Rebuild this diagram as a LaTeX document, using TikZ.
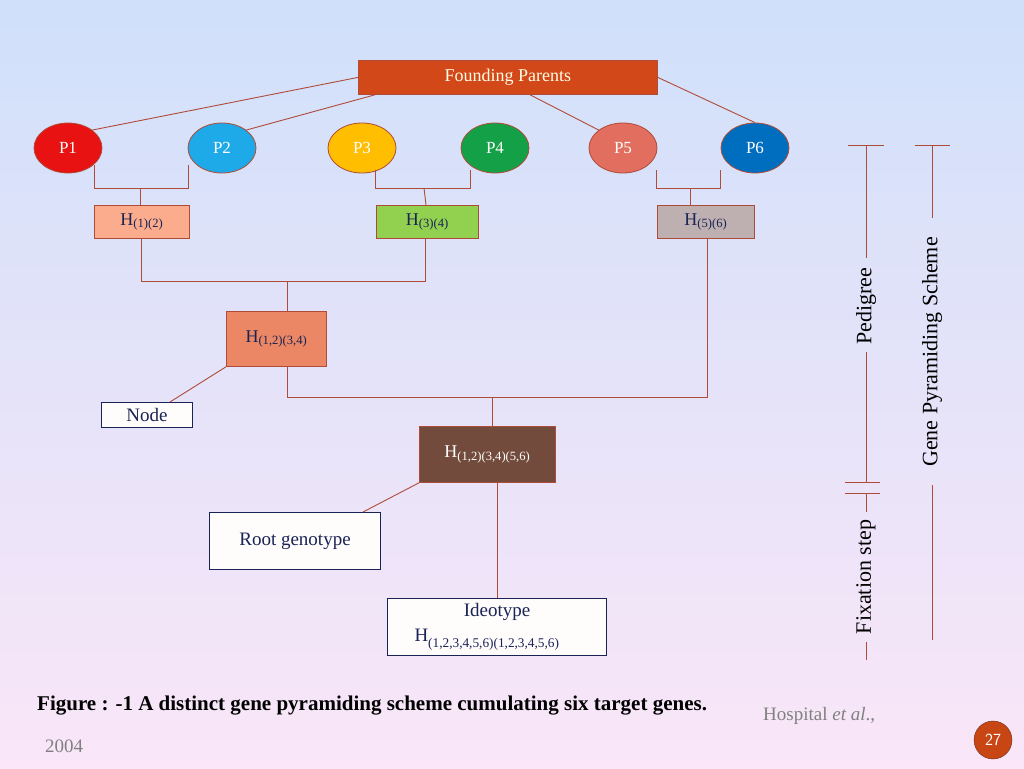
\documentclass[tikz,border=0pt]{standalone}
\usepackage{fontspec}
\setmainfont{Liberation Serif}
\usetikzlibrary{shapes.geometric,calc}
\definecolor{ln}{RGB}{175,75,55}
\definecolor{navy}{RGB}{25,35,85}
\begin{document}
\begin{tikzpicture}[x=1pt,y=-1pt,
  con/.style={draw=ln,line width=0.9pt},
  par/.style={ellipse,minimum width=68pt,minimum height=50pt,draw=ln,line width=0.8pt,text=white,font=\fontsize{17}{17}\selectfont},
  hbox/.style={draw=ln,line width=0.8pt,anchor=north west,inner sep=0pt,font=\fontsize{18}{18}\selectfont,text=navy},
  wbox/.style={draw=navy,line width=1pt,fill=white!60!pink!10,anchor=north west,inner sep=0pt,font=\fontsize{19}{19}\selectfont,text=navy},
  side/.style={rotate=90,font=\fontsize{22}{22}\selectfont}]
\shade[top color={rgb,255:red,208;green,224;blue,250},bottom color={rgb,255:red,250;green,230;blue,248}] (0,0) rectangle (1024,768);
\useasboundingbox (0,0) rectangle (1024,768);
% founding parents
\node[hbox,fill={rgb,255:red,210;green,72;blue,25},text=white!90!yellow,minimum width=299pt,minimum height=34pt] (fp) at (358,60) {Founding Parents};
\node[par,fill={rgb,255:red,232;green,18;blue,18}] (p1) at (68,148) {P1};
\node[par,fill={rgb,255:red,30;green,170;blue,232}] (p2) at (222,148) {P2};
\node[par,fill={rgb,255:red,255;green,190;blue,0}] (p3) at (362,148) {P3};
\node[par,fill={rgb,255:red,20;green,160;blue,70}] (p4) at (495,148) {P4};
\node[par,fill={rgb,255:red,225;green,110;blue,95}] (p5) at (623,148) {P5};
\node[par,fill={rgb,255:red,0;green,110;blue,190}] (p6) at (755,148) {P6};
\draw[con] (fp.west) -- (p1.north east);
\draw[con] ($(fp.south west)+(17,0)$) -- (p2.north east);
\draw[con] ($(fp.south west)+(172,0)$) -- (p5.north west);
\draw[con] (fp.east) -- (p6.north);
% H boxes
\node[hbox,fill={rgb,255:red,250;green,172;blue,140},minimum width=95pt,minimum height=33pt] (h12) at (94,205) {H\textsubscript{(1)(2)}};
\node[hbox,fill={rgb,255:red,146;green,208;blue,80},minimum width=102pt,minimum height=33pt] (h34) at (376,205) {H\textsubscript{(3)(4)}};
\node[hbox,fill={rgb,255:red,190;green,176;blue,176},minimum width=97pt,minimum height=33pt] (h56) at (657,205) {H\textsubscript{(5)(6)}};
\draw[con] (94,165) -- (94,188) -- (188,188) -- (188,165);
\draw[con] (140,188) -- (140,205);
\draw[con] (375,170) -- (375,188) -- (470,188) -- (470,170);
\draw[con] (424,188) -- (426,205);
\draw[con] (656,170) -- (656,188) -- (720,188) -- (720,170);
\draw[con] (690,188) -- (690,205);
% level 2
\node[hbox,fill={rgb,255:red,235;green,135;blue,100},minimum width=100pt,minimum height=55pt] (h1234) at (226,311) {H\textsubscript{(1,2)(3,4)}};
\draw[con] (141,238) -- (141,281) -- (425,281) -- (425,238);
\draw[con] (287,281) -- (287,311);
\node[wbox,minimum width=91pt,minimum height=25pt] (nd) at (101,402) {Node};
\draw[con] (h1234.south west) -- (170,402);
% level 3
\node[hbox,fill={rgb,255:red,115;green,75;blue,60},text=white,minimum width=136pt,minimum height=56pt] (h6) at (419,426) {H\textsubscript{(1,2)(3,4)(5,6)}};
\draw[con] (287,366) -- (287,397) -- (707,397) -- (707,238);
\draw[con] (492,397) -- (492,426);
\node[wbox,minimum width=171pt,minimum height=57pt] (rg) at (209,512) {Root genotype};
\draw[con] (h6.south west) -- (363,512);
\node[wbox,minimum width=219pt,minimum height=57pt,align=center] (id) at (387,598) {Ideotype\\[6pt]\hspace*{-20pt}H\textsubscript{\raisebox{-4pt}{(1,2,3,4,5,6)(1,2,3,4,5,6)}}};
\draw[con] (497,482) -- (497,598);
% side brackets
\draw[con] (848,145) -- (884,145);
\draw[con] (866,145) -- (866,258);
\node[side] (ped) at (866,306) {Pedigree};
\draw[con] (866,352) -- (866,482);
\draw[con] (845,482) -- (880,482);
\draw[con] (845,493) -- (880,493);
\draw[con] (866,493) -- (866,512);
\node[side] (fx) at (866,577) {Fixation step};
\draw[con] (866,642) -- (866,660);
\draw[con] (915,145) -- (950,145);
\draw[con] (932,145) -- (932,218);
\node[side] (gp) at (932,352) {Gene Pyramiding Scheme};
\draw[con] (932,485) -- (932,640);
% caption
\node[anchor=base west,font=\bfseries\fontsize{21}{21}\selectfont,inner sep=0pt] (cap) at (37,710) {Figure : -1 A distinct gene pyramiding scheme cumulating six target genes.};
\node[anchor=base west,font=\fontsize{19}{19}\selectfont,text=gray,inner sep=0pt] (hos) at (763,720) {Hospital \textit{et al}.,};
\node[anchor=base west,font=\fontsize{19}{19}\selectfont,text=gray,inner sep=0pt] (yr) at (45,752) {2004};
\node[circle,fill={rgb,255:red,200;green,70;blue,20},draw=ln!60!black,minimum size=38pt,inner sep=0pt,text=white,font=\sffamily\fontsize{17}{17}\selectfont] (pg) at (993,740) {27};
\end{tikzpicture}
\end{document}
